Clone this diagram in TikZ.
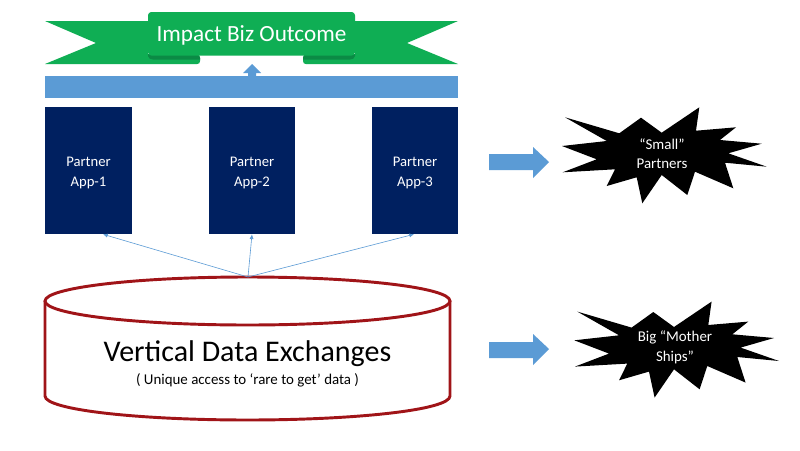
\documentclass[tikz,border=0pt]{standalone}
\usepackage{fontspec}
\setmainfont{Carlito}
\usetikzlibrary{calc,arrows.meta}
\definecolor{navybox}{HTML}{002060}
\definecolor{ribbon}{HTML}{0FAE54}
\definecolor{ribbondark}{HTML}{0B8A45}
\definecolor{barblue}{HTML}{5B9BD5}
\definecolor{cylred}{HTML}{A01418}
\newcommand{\fsz}[1]{\fontsize{#1}{#1}\selectfont}
\newcommand{\burst}{(85,27.3) -- (139.3,43.3) -- (161,27.7) -- (181.7,42.7) -- (219.3,17.3) -- (216,40.7) -- (256,37.3) -- (240,50) -- (281.7,53.7) -- (248.3,63.3) -- (286.7,76.7) -- (245,72.7) -- (253.3,98.3) -- (215,81.7) -- (207.3,105) -- (181.7,85) -- (162.3,113.3) -- (156.7,87.3) -- (126.7,96) -- (135,79.3) -- (82.7,82.3) -- (116.7,69.3) -- (82,56) -- (126.7,51) -- cycle}
\tikzset{
  appbox/.style={fill=navybox,draw=none,minimum width=86.5pt*0.75,minimum height=127pt*0.75,inner sep=0pt,align=center,text=white,font=\fsz{11}},
  feed/.style={draw=barblue,line width=0.45pt,-{Latex[length=3.5pt,width=3pt]}},
  blockarrow/.style={fill=barblue,draw=none},
  bursttext/.style={text=white,align=center,font=\fsz{11.2},inner sep=0pt},
}
\begin{document}
\begin{tikzpicture}[x=0.75pt,y=-0.75pt]
\useasboundingbox (0,0) rectangle (800,450);
\fill[white] (0,0) rectangle (800,450);
% ribbon
\fill[ribbon] (45,21) -- (148,21) -- (148,55) -- (197,55) .. controls (199,55) and (200,56) .. (200,58) -- (200,61) .. controls (200,63) and (199,64) .. (197,64) -- (45,64) -- (96,43) -- cycle;
\fill[ribbon] (458,21) -- (355,21) -- (355,55) -- (306,55) .. controls (304,55) and (303,56) .. (303,58) -- (303,61) .. controls (303,63) and (304,64) .. (306,64) -- (458,64) -- (407,43) -- cycle;
\fill[ribbondark] (148,54) -- (148,56) .. controls (149,58.5) and (150,59.5) .. (153,59.5) -- (200,59.5) -- (200,58) .. controls (200,56) and (199,55) .. (197,54) -- cycle;
\fill[ribbondark] (355,54) -- (355,56) .. controls (354,58.5) and (353,59.5) .. (350,59.5) -- (303,59.5) -- (303,58) .. controls (303,56) and (304,55) .. (306,54) -- cycle;
\fill[ribbon,rounded corners=2.5pt] (148,12) rectangle (355,55.5);
\node[text=white,font=\fsz{17.4},inner sep=0pt] (title) at (251.5,35) {Impact Biz Outcome};
% bar and arrow
\node[fill=barblue,draw=none,minimum width=413pt*0.75,minimum height=22pt*0.75,inner sep=0pt] (bar) at (251.5,87) {};
\fill[barblue] (248,76) -- (248,73) -- (243,73) -- (252,64) -- (261,73) -- (256,73) -- (256,76) -- cycle;
% apps
\node[appbox] (app1) at (88.5,170.5) {\rule{0pt}{11pt}Partner\\[3.5pt]App-1};
\node[appbox] (app2) at (252,170.5) {\rule{0pt}{11pt}Partner\\[3.5pt]App-2};
\node[appbox] (app3) at (415,170.5) {\rule{0pt}{11pt}Partner\\[3.5pt]App-3};
% cylinder
\draw[cylred,line width=2.2pt,fill=white] (45,301) -- (45,396) .. controls (45,410) and (140,420) .. (247.5,420) .. controls (355,420) and (450,410) .. (450,396) -- (450,301);
\draw[cylred,line width=2.2pt,fill=white] (247.5,301) ellipse [x radius=202.5,y radius=24];
\node[font=\fsz{22.5},inner sep=0pt] (vde) at (247.5,354) {Vertical Data Exchanges};
\node[font=\fsz{11.2},inner sep=0pt] (vdesub) at (247.5,380) {( Unique access to ‘rare to get’ data )};
% feeds
\coordinate (src) at (248,277);
\draw[feed] (src) -- ($(app1.south)+(14.5,0)$);
\draw[feed] (src) -- (app2.south);
\draw[feed] (src) -- ($(app3.south)+(-1,0)$);
% block arrows
\fill[blockarrow] (489,154) -- (533,154) -- (533,147) -- (549,162) -- (533,178) -- (533,170) -- (489,170) -- cycle;
\fill[blockarrow] (489,342) -- (533,342) -- (533,334) -- (549,349) -- (533,365) -- (533,358) -- (489,358) -- cycle;
% bursts
\begin{scope}[shift={(480,90)}]
\fill[black] \burst;
\end{scope}
\begin{scope}[shift={(492.3,284.3)}]
\fill[black] \burst;
\end{scope}
\node[bursttext] (small) at (662,153.5) {“Small”\\[3.5pt]Partners};
\node[bursttext] (big) at (675,347.5) {Big “Mother\\[3.5pt]Ships”};
\end{tikzpicture}
\end{document}
